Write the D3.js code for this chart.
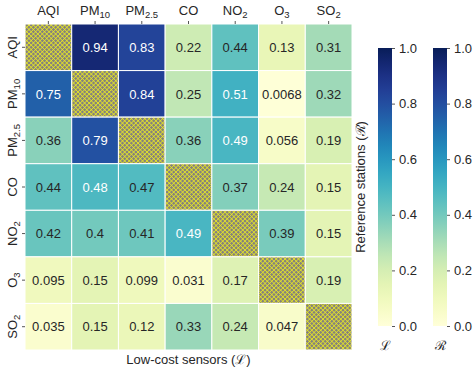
<!DOCTYPE html>
<html>
<head>
<meta charset="utf-8">
<script src="https://cdn.jsdelivr.net/npm/d3@7"></script>
<style>
  body { margin: 0; background: #fff; }
  text { font-family: "Liberation Sans", Arial, sans-serif; }
</style>
</head>
<body>
<div id="chart"></div>
<script>
// pollutants, same order on both axes
var labels = [
  {base: "AQI", sub: ""},
  {base: "PM", sub: "10"},
  {base: "PM", sub: "2.5"},
  {base: "CO", sub: ""},
  {base: "NO", sub: "2"},
  {base: "O", sub: "3"},
  {base: "SO", sub: "2"}
];

// rows = reference stations, cols = low-cost sensors, null = diagonal (hatched)
var rowAQI  = [null, 0.94, 0.83, 0.22, 0.44, 0.13, 0.31];
var rowPM10 = [0.75, null, 0.84, 0.25, 0.51, 0.0068, 0.32];
var rowPM25 = [0.36, 0.79, null, 0.36, 0.49, 0.056, 0.19];
var rowCO   = [0.44, 0.48, 0.47, null, 0.37, 0.24, 0.15];
var rowNO2  = [0.42, 0.4, 0.41, 0.49, null, 0.39, 0.15];
var rowO3   = [0.095, 0.15, 0.099, 0.031, 0.17, null, 0.19];
var rowSO2  = [0.035, 0.15, 0.12, 0.33, 0.24, 0.047, null];
var matrix = [rowAQI, rowPM10, rowPM25, rowCO, rowNO2, rowO3, rowSO2];

var cbTicks = [0, 0.2, 0.4, 0.6, 0.8, 1.0];
var cbNames = ["\u2112", "\u211B"];

var width = 474, height = 371;
var hm = {left: 25, top: 24, right: 352, bottom: 350};
var dark = "#262626";
var fs = "13px";

var svg = d3.select("#chart").append("svg")
  .attr("width", width)
  .attr("height", height);

var color = d3.scaleSequential(d3.interpolateYlGnBu).domain([0, 1]);

var idx = d3.range(labels.length);
var x = d3.scaleBand().domain(idx).range([hm.left, hm.right]);
var y = d3.scaleBand().domain(idx).range([hm.top, hm.bottom]);

// hatch for the diagonal
var defs = svg.append("defs");
var hs = 3.15;
var pat = defs.append("pattern")
  .attr("id", "hatch")
  .attr("patternUnits", "userSpaceOnUse")
  .attr("width", hs)
  .attr("height", hs)
  .attr("patternTransform", "rotate(45)");
pat.append("rect").attr("width", hs).attr("height", hs).attr("fill", "#85827c");
pat.append("line").attr("x1", 0).attr("y1", 0).attr("x2", hs).attr("y2", 0)
  .attr("stroke", "#f2f21c").attr("stroke-width", 1.3);
pat.append("line").attr("x1", 0).attr("y1", 0).attr("x2", 0).attr("y2", hs)
  .attr("stroke", "#f2f21c").attr("stroke-width", 1.3);

var cells = [];
matrix.forEach(function(row, r) {
  row.forEach(function(v, c) { cells.push({r: r, c: c, v: v}); });
});

var g = svg.append("g");

g.selectAll("rect.cell")
  .data(cells)
  .enter()
  .append("rect")
  .attr("class", "cell")
  .attr("x", d => x(d.c))
  .attr("y", d => y(d.r))
  .attr("width", x.bandwidth())
  .attr("height", y.bandwidth())
  .attr("fill", d => d.v === null ? "url(#hatch)" : color(d.v))
  .attr("stroke", "#fff")
  .attr("stroke-width", 1);

g.selectAll("text.val")
  .data(cells.filter(d => d.v !== null))
  .enter()
  .append("text")
  .attr("class", "val")
  .attr("x", d => x(d.c) + x.bandwidth() / 2)
  .attr("y", d => y(d.r) + y.bandwidth() / 2)
  .attr("dy", "0.36em")
  .attr("text-anchor", "middle")
  .style("font-size", fs)
  .attr("fill", d => d.v >= 0.475 ? "#fff" : dark)
  .text(d => d.v);

function addLabel(sel) {
  sel.append("tspan").text(d => d.base);
  sel.append("tspan")
    .attr("dy", "0.3em")
    .style("font-size", "9.5px")
    .text(d => d.sub);
}

// top tick labels
var topAxis = svg.append("g");
topAxis.selectAll("line")
  .data(idx)
  .enter()
  .append("line")
  .attr("x1", i => x(i) + x.bandwidth() / 2)
  .attr("x2", i => x(i) + x.bandwidth() / 2)
  .attr("y1", hm.top - 3)
  .attr("y2", hm.top)
  .attr("stroke", "#555");
topAxis.selectAll("text")
  .data(labels)
  .enter()
  .append("text")
  .attr("x", (d, i) => x(i) + x.bandwidth() / 2)
  .attr("y", 15)
  .attr("text-anchor", "middle")
  .style("font-size", fs)
  .attr("fill", dark)
  .call(addLabel);

// left tick labels (rotated)
var leftAxis = svg.append("g");
leftAxis.selectAll("line")
  .data(idx)
  .enter()
  .append("line")
  .attr("x1", hm.left - 3)
  .attr("x2", hm.left)
  .attr("y1", i => y(i) + y.bandwidth() / 2)
  .attr("y2", i => y(i) + y.bandwidth() / 2)
  .attr("stroke", "#555");
leftAxis.selectAll("text")
  .data(labels)
  .enter()
  .append("text")
  .attr("transform", (d, i) => "translate(17," + (y(i) + y.bandwidth() / 2) + ") rotate(-90)")
  .attr("text-anchor", "middle")
  .style("font-size", fs)
  .attr("fill", dark)
  .call(addLabel);

// axis titles
svg.append("text")
  .attr("x", (hm.left + hm.right) / 2)
  .attr("y", 364)
  .attr("text-anchor", "middle")
  .style("font-size", fs)
  .attr("fill", dark)
  .text("Low-cost sensors (\u2112)");

svg.append("text")
  .attr("transform", "translate(365," + (hm.top + hm.bottom) / 2 + ") rotate(-90)")
  .attr("text-anchor", "middle")
  .style("font-size", fs)
  .attr("fill", dark)
  .text("Reference stations (\u211B)");

// colorbars
var grad = defs.append("linearGradient")
  .attr("id", "cbgrad")
  .attr("x1", 0).attr("y1", 1).attr("x2", 0).attr("y2", 0);
d3.range(0, 1.0001, 0.05).forEach(function(t) {
  grad.append("stop").attr("offset", t).attr("stop-color", color(t));
});

var cbY = d3.scaleLinear().domain([0, 1]).range([326, 48]);
var cbX = [378, 433];
var cbW = 14;

cbX.forEach(function(cx, k) {
  var cb = svg.append("g");
  cb.append("rect")
    .attr("x", cx)
    .attr("y", cbY(1))
    .attr("width", cbW)
    .attr("height", cbY(0) - cbY(1))
    .attr("fill", "url(#cbgrad)");
  var ax = cb.append("g")
    .attr("transform", "translate(" + (cx + cbW) + ",0)")
    .call(d3.axisRight(cbY).tickValues(cbTicks).tickFormat(d3.format(".1f")).tickSize(3).tickPadding(4));
  ax.select(".domain").remove();
  ax.selectAll("line").attr("stroke", "#555");
  ax.selectAll("text")
    .style("font-family", "'Liberation Sans', Arial, sans-serif")
    .style("font-size", fs)
    .attr("fill", dark);
  cb.append("text")
    .attr("x", cx + cbW / 2)
    .attr("y", 350)
    .attr("text-anchor", "middle")
    .style("font-size", fs)
    .attr("fill", dark)
    .text(cbNames[k]);
});
</script>
</body>
</html>
